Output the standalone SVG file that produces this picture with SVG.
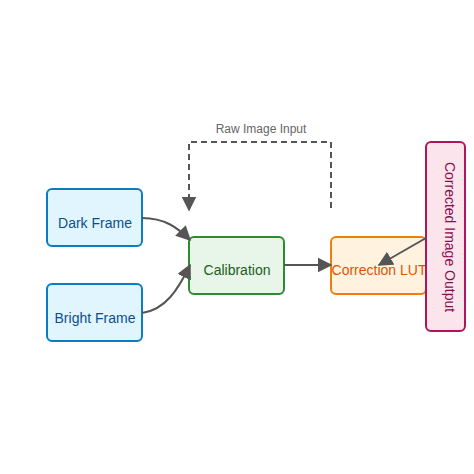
<svg xmlns="http://www.w3.org/2000/svg" width="474" height="474" viewBox="0 0 474 474">
<style>
text{font-family:"Liberation Sans",Arial,sans-serif;font-size:14px;text-anchor:middle;dominant-baseline:central}
text.lbl{font-size:12px;fill:#666}
.e{fill:none;stroke:#555;stroke-width:2}
.blue rect{fill:#e1f5fe;stroke:#0b7cc4;stroke-width:2}
.blue text{fill:#0d4f8b}
</style>
<defs>
<marker id="ah" viewBox="0 0 10 10" refX="9" refY="5" markerWidth="7.5" markerHeight="7.5" orient="auto" markerUnits="strokeWidth"><path d="M0,0L10,5L0,10z" fill="#555"/></marker>
</defs>
<rect width="474" height="474" fill="#fff"/>
<g id="dark" class="blue"><rect x="47" y="189" width="95" height="57" rx="5"/><text x="95" y="223">Dark Frame</text></g>
<g id="bright" class="blue"><rect x="47" y="284" width="95" height="57" rx="5"/><text x="95" y="318">Bright Frame</text></g>
<g id="cal"><rect x="189" y="237" width="95" height="57" rx="5" fill="#e8f5e9" stroke="#2e8b34" stroke-width="2"/><text x="237" y="270" fill="#1b5e20">Calibration</text></g>
<g id="lut"><rect x="331" y="237" width="95" height="57" rx="5" fill="#fff3e0" stroke="#ef7f0a" stroke-width="2"/><text x="379" y="270" fill="#e65100">Correction LUT</text></g>
<g id="out"><rect x="426" y="142" width="39" height="189" rx="5" fill="#fce4ec" stroke="#b0145a" stroke-width="2"/><text transform="translate(450,237) rotate(90)" fill="#880e4f">Corrected Image Output</text></g>
<g id="connectors">
<path class="e" d="M142,218C165,218 178,228 190,240" marker-end="url(#ah)"/>
<path class="e" d="M142,313C165,310 178,290 190,265" marker-end="url(#ah)"/>
<path class="e" d="M284,265L331,265" marker-end="url(#ah)"/>
<path class="e" d="M426,238L379,265" marker-end="url(#ah)"/>
<path class="e" d="M331,208V142H189V210" stroke-dasharray="6,4" marker-end="url(#ah)"/>
<text class="lbl" x="261" y="129">Raw Image Input</text>
</g>
</svg>
